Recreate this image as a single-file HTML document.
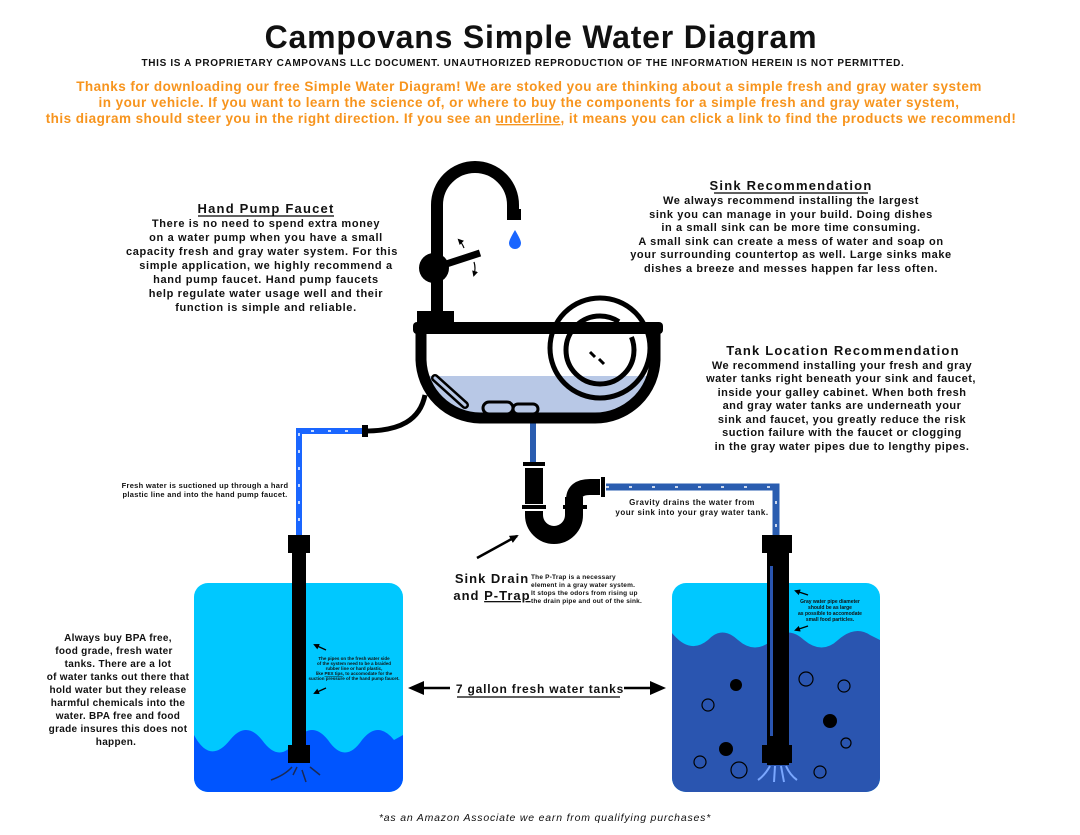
<!DOCTYPE html>
<html><head><meta charset="utf-8"><style>
body{margin:0;width:1080px;height:835px;background:#fff;overflow:hidden;font-family:"Liberation Sans",sans-serif;}
svg{display:block}
text{font-family:"Liberation Sans",sans-serif;font-weight:bold;fill:#111}
</style></head><body>
<svg width="1080" height="835" viewBox="0 0 1080 835">
<defs>
<marker id="ah" markerWidth="10" markerHeight="10" refX="7" refY="5" orient="auto" markerUnits="userSpaceOnUse"><path d="M0,1 L9,5 L0,9z" fill="#000"/></marker>
<marker id="as" markerWidth="6" markerHeight="6" refX="4" refY="3" orient="auto" markerUnits="userSpaceOnUse"><path d="M0,0 L6,3 L0,6z" fill="#000"/></marker>
<marker id="ab" markerWidth="16" markerHeight="16" refX="12" refY="8" orient="auto" markerUnits="userSpaceOnUse"><path d="M0,1 L16,8 L0,15z" fill="#000"/></marker>
</defs>
<text x="541" y="48" text-anchor="middle" font-size="32" letter-spacing="0.8">Campovans Simple Water Diagram</text>
<text x="523" y="66" text-anchor="middle" font-size="10" letter-spacing="0.65">THIS IS A PROPRIETARY CAMPOVANS LLC DOCUMENT.  UNAUTHORIZED REPRODUCTION OF THE INFORMATION HEREIN IS NOT PERMITTED.</text>
<g font-size="13.5" text-anchor="middle" letter-spacing="0.45">
<text x="529" y="91" style="fill:#f7941d">Thanks for downloading our free Simple Water Diagram!    We are stoked you are thinking about a simple fresh and gray water system</text>
<text x="529" y="107" style="fill:#f7941d">in your vehicle. If you want to learn the science of, or where to buy the components for a simple fresh and gray water system,</text>
<text x="531" y="123" style="fill:#f7941d">this diagram should steer you in the right direction.  If you see an <tspan text-decoration="underline" style="fill:#f7941d">underline</tspan>, it means you can click a link to find the products we recommend!</text>
</g>

<text x="266" y="213" text-anchor="middle" font-size="13" letter-spacing="1.2">Hand Pump Faucet</text>
<line x1="198" y1="216" x2="334" y2="216" stroke="#000" stroke-width="1.2"/>
<g font-size="11" text-anchor="middle" letter-spacing="0.65">
<text x="266" y="227">There is no need to spend extra money</text>
<text x="266" y="241">on a water pump when you have a small</text>
<text x="262" y="255">capacity fresh and gray water system.  For this</text>
<text x="266" y="269">simple application, we highly recommend a</text>
<text x="266" y="283">hand pump faucet.  Hand pump faucets</text>
<text x="266" y="297">help regulate water usage well and their</text>
<text x="266" y="311">function is simple and reliable.</text>
</g>

<text x="791" y="190" text-anchor="middle" font-size="13" letter-spacing="1.2">Sink Recommendation</text>
<line x1="714" y1="193" x2="868" y2="193" stroke="#000" stroke-width="1.2"/>
<g font-size="11" text-anchor="middle" letter-spacing="0.6">
<text x="791" y="204">We always recommend installing the largest</text>
<text x="791" y="218">sink you can manage in your build.  Doing dishes</text>
<text x="791" y="231">in a small sink can be more time consuming.</text>
<text x="791" y="245">A small sink can create a mess of water and soap on</text>
<text x="791" y="258">your surrounding countertop as well.  Large sinks make</text>
<text x="791" y="272">dishes a breeze and messes happen far less often.</text>
</g>

<text x="843" y="355" text-anchor="middle" font-size="13" letter-spacing="1.2">Tank Location Recommendation</text>
<g font-size="11" text-anchor="middle" letter-spacing="0.5">
<text x="842" y="369">We recommend installing your fresh and gray</text>
<text x="841" y="382">water tanks right beneath your sink and faucet,</text>
<text x="842" y="396">inside your galley cabinet.  When both fresh</text>
<text x="842" y="409">and gray water tanks are underneath your</text>
<text x="842" y="423">sink and faucet, you greatly reduce the risk</text>
<text x="842" y="436">suction failure with the faucet or clogging</text>
<text x="842" y="450">in the gray water pipes due to lengthy pipes.</text>
</g>

<!-- pipes -->
<path d="M365,431 H299 V535" fill="none" stroke="#1a66ff" stroke-width="6"/>
<path d="M365,431 H299 V535" fill="none" stroke="#fff" stroke-width="1.5" stroke-dasharray="3,14"/>
<path d="M365,431 C400,431 420,420 425,395" fill="none" stroke="#000" stroke-width="5"/>
<rect x="362" y="425" width="6" height="12" fill="#000"/>
<path d="M533,420 V462" fill="none" stroke="#2a5db0" stroke-width="6"/>
<path d="M606,487 H776 V537" fill="none" stroke="#2a5db0" stroke-width="7"/>
<path d="M606,487 H776 V537" fill="none" stroke="#fff" stroke-width="1.5" stroke-dasharray="3,20"/>

<!-- faucet -->
<path d="M437,318 V205 A38,38 0 0 1 513,205 V215" fill="none" stroke="#000" stroke-width="12"/>
<rect x="507" y="209" width="14" height="11" fill="#000"/>
<path d="M515,230 Q509,240 509,243 A6,6 0 0 0 521,243 Q521,240 515,230z" fill="#1a66ff"/>
<circle cx="434" cy="268" r="15" fill="#000"/>
<line x1="434" y1="268" x2="480" y2="253" stroke="#000" stroke-width="7"/>
<path d="M464,248 Q462,243 459,240" fill="none" stroke="#000" stroke-width="1.2" marker-end="url(#as)"/>
<path d="M474,262 Q476,268 474,275" fill="none" stroke="#000" stroke-width="1.2" marker-end="url(#as)"/>
<rect x="417" y="311" width="37" height="14" fill="#000"/>

<!-- sink -->
<clipPath id="bowl"><path d="M421,330 H655 V360 A60,60 0 0 1 595,415 H480 A60,60 0 0 1 421,360z"/></clipPath>
<rect x="415" y="376" width="245" height="50" fill="#b8c8e6" clip-path="url(#bowl)"/>
<path d="M421,328 V360 A60,60 0 0 0 480,418 H595 A60,60 0 0 0 655,360 V328" fill="none" stroke="#000" stroke-width="11"/>
<rect x="413" y="322" width="250" height="12" rx="4" fill="#000"/>
<circle cx="600" cy="348" r="50" fill="none" stroke="#000" stroke-width="5"/>
<circle cx="600" cy="350" r="34" fill="none" stroke="#000" stroke-width="5" stroke-dasharray="180,20"/>
<line x1="590" y1="352" x2="595" y2="357" stroke="#000" stroke-width="3"/>
<line x1="599" y1="359" x2="604" y2="364" stroke="#000" stroke-width="3"/>
<path d="M435,378 L465,405" stroke="#000" stroke-width="8" stroke-linecap="round"/>
<path d="M435,378 L465,405" stroke="#b8c8e6" stroke-width="3" stroke-linecap="round"/>
<rect x="483" y="402" width="30" height="12" rx="6" fill="none" stroke="#000" stroke-width="3"/>
<rect x="513" y="404" width="25" height="10" rx="5" fill="none" stroke="#000" stroke-width="3"/>

<!-- p-trap -->
<rect x="523" y="462" width="22" height="4" fill="#000"/>
<rect x="525" y="468" width="18" height="36" fill="#000"/>
<rect x="522" y="505" width="24" height="4" fill="#000"/>
<path d="M534,511 V515 A20,20 0 0 0 574,515 V497" fill="none" stroke="#000" stroke-width="18"/>
<rect x="563" y="505" width="24" height="4" fill="#000"/>
<path d="M574,500 Q574,487 590,487 H600" fill="none" stroke="#000" stroke-width="16"/>
<rect x="601" y="477" width="4" height="20" fill="#000"/>
<line x1="477" y1="558" x2="517" y2="536" stroke="#000" stroke-width="2.5" marker-end="url(#ah)"/>

<text x="692" y="505" text-anchor="middle" font-size="8" letter-spacing="0.5">Gravity drains the water from</text>
<text x="692" y="515" text-anchor="middle" font-size="8" letter-spacing="0.5">your sink into your gray water tank.</text>
<text x="205" y="488" text-anchor="middle" font-size="7.5" letter-spacing="0.3">Fresh water is suctioned up through a hard</text>
<text x="205" y="497" text-anchor="middle" font-size="7.5" letter-spacing="0.3">plastic line and into the hand pump faucet.</text>

<text x="492" y="583" text-anchor="middle" font-size="13" letter-spacing="1">Sink Drain</text>
<text x="492" y="600" text-anchor="middle" font-size="13" letter-spacing="1">and <tspan text-decoration="underline">P-Trap</tspan></text>
<g font-size="6.5" letter-spacing="0.2">
<text x="531" y="579">The P-Trap is a necessary</text>
<text x="531" y="587">element in a gray water system.</text>
<text x="531" y="595">It stops the odors from rising up</text>
<text x="531" y="603">the drain pipe and out of the sink.</text>
</g>

<!-- left tank -->
<clipPath id="lt"><rect x="194" y="583" width="209" height="209" rx="14"/></clipPath>
<g clip-path="url(#lt)">
<rect x="194" y="583" width="209" height="209" fill="#00c8ff"/>
<path d="M194,735 Q210,765 230,740 Q246,720 262,740 Q280,765 296,740 Q312,720 328,740 Q345,765 362,740 Q378,720 394,740 L403,735 V792 H194z" fill="#0055ff"/>
</g>
<rect x="292" y="535" width="14" height="215" fill="#000"/>
<rect x="288" y="535" width="22" height="18" fill="#000"/>
<rect x="288" y="745" width="22" height="18" fill="#000"/>
<g stroke="#1b2a55" stroke-width="1.5" fill="none"><path d="M271,780 Q285,775 292,767"/><path d="M293,775 L297,767"/><path d="M306,782 L302,770"/><path d="M320,775 L310,767"/></g>
<line x1="326" y1="650" x2="315" y2="645" stroke="#000" stroke-width="1.3" marker-end="url(#as)"/>
<line x1="326" y1="688" x2="315" y2="693" stroke="#000" stroke-width="1.3" marker-end="url(#as)"/>
<g font-size="4.5" text-anchor="middle"><text x="354" y="660">The pipes on the fresh water side</text><text x="354" y="665">of the system need to be a braided</text><text x="354" y="670">rubber line or hard plastic,</text><text x="354" y="675">like <tspan text-decoration="underline">PEX tips</tspan>, to accomodate for the</text><text x="354" y="680">suction pressure of the hand pump faucet.</text></g>

<g font-size="10" text-anchor="middle" letter-spacing="0.3">
<text x="118" y="641">Always buy BPA free,</text>
<text x="114" y="654">food grade, fresh water</text>
<text x="118" y="667">tanks.  There are a lot</text>
<text x="118" y="680">of water tanks out there that</text>
<text x="118" y="693">hold water but they release</text>
<text x="118" y="706">harmful chemicals into the</text>
<text x="118" y="719">water.  BPA free and food</text>
<text x="118" y="732">grade insures this does not</text>
<text x="116" y="745">happen.</text>
</g>

<!-- right tank -->
<clipPath id="rt"><rect x="672" y="583" width="208" height="209" rx="14"/></clipPath>
<g clip-path="url(#rt)">
<rect x="672" y="583" width="208" height="209" fill="#00c8ff"/>
<path d="M672,633 Q690,655 708,640 Q722,625 738,640 Q755,655 772,640 Q788,625 804,640 Q822,655 838,640 Q855,625 870,635 L880,640 V792 H672z" fill="#2a55b0"/>
</g>
<rect x="767" y="535" width="22" height="230" fill="#000"/>
<rect x="762" y="535" width="30" height="18" fill="#000"/>
<rect x="762" y="745" width="30" height="18" fill="#000"/>
<rect x="770" y="566" width="3" height="170" fill="#2a55b0"/>
<g stroke="#7aa7ff" stroke-width="2" fill="none"><path d="M770,766 Q765,775 758,780"/><path d="M775,766 L774,782"/><path d="M781,766 L784,782"/><path d="M786,766 Q790,775 797,780"/></g>
<line x1="808" y1="595" x2="796" y2="591" stroke="#000" stroke-width="1.3" marker-end="url(#as)"/>
<line x1="808" y1="626" x2="796" y2="630" stroke="#000" stroke-width="1.3" marker-end="url(#as)"/>
<g font-size="5" text-anchor="middle"><text x="830" y="603">Gray water pipe diameter</text><text x="830" y="609">should be as large</text><text x="830" y="615">as possible to accomodate</text><text x="830" y="621">small food particles.</text></g>
<g fill="#000"><circle cx="736" cy="685" r="6"/><circle cx="726" cy="749" r="7"/><circle cx="830" cy="721" r="7"/></g>
<g fill="none" stroke="#000" stroke-width="1.2"><circle cx="806" cy="679" r="7"/><circle cx="708" cy="705" r="6"/><circle cx="739" cy="770" r="8"/><circle cx="820" cy="772" r="6"/><circle cx="846" cy="743" r="5"/><circle cx="700" cy="762" r="6"/><circle cx="844" cy="686" r="6"/></g>

<!-- center label -->
<text x="540" y="693" text-anchor="middle" font-size="12" letter-spacing="0.8">7 gallon fresh water tanks</text>
<line x1="457" y1="697" x2="620" y2="697" stroke="#000" stroke-width="1.2"/>
<line x1="450" y1="688" x2="412" y2="688" stroke="#000" stroke-width="2.5" marker-end="url(#ab)"/>
<line x1="624" y1="688" x2="662" y2="688" stroke="#000" stroke-width="2.5" marker-end="url(#ab)"/>

<text x="545" y="821" text-anchor="middle" font-size="10.5" font-style="italic" letter-spacing="0.8" style="font-weight:normal">*as an Amazon Associate we earn from qualifying purchases*</text>
</svg>
</body></html>
